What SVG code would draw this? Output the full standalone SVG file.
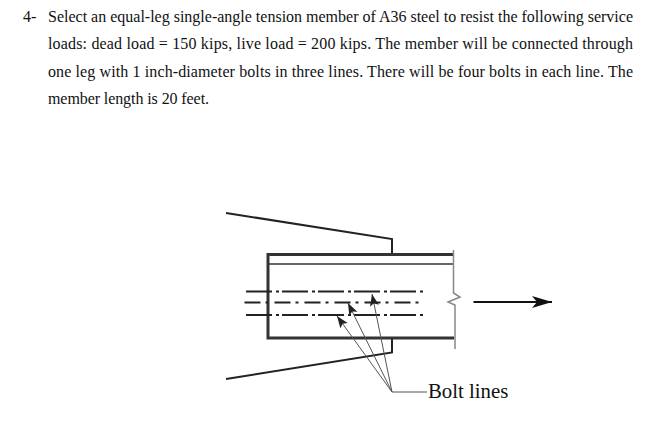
<svg xmlns="http://www.w3.org/2000/svg" width="662" height="441" viewBox="0 0 662 441">
<style>
.t{font-family:"Liberation Serif","Times New Roman",serif;font-size:16px;fill:#111}
.l{font-family:"Liberation Serif","Times New Roman",serif;font-size:20.800px;fill:#111}
.k{fill:none;stroke:#222;stroke-width:2}
.h{fill:none;stroke:#333;stroke-width:3}
.d{fill:none;stroke:#222;stroke-width:1.800}
.a{fill:none;stroke:#555;stroke-width:1}
</style>
<defs>
<marker id="ah" markerUnits="userSpaceOnUse" markerWidth="13" markerHeight="10" refX="12" refY="4.500" orient="auto"><path d="M0 0L12 4.500L0 9L2.500 4.500Z" fill="#222"/></marker>
<marker id="big" markerUnits="userSpaceOnUse" markerWidth="22" markerHeight="14" refX="20" refY="6" orient="auto"><path d="M0 0L20 6L0 12L5 6Z" fill="#111"/></marker>
</defs>
<rect width="662" height="441" fill="#fff"/>
<g id="question">
<text class="t" x="23" y="21.500">4-</text>
<text class="t" x="48" y="21.500" textLength="585" lengthAdjust="spacing">Select an equal-leg single-angle tension member of A36 steel to resist the following service</text>
<text class="t" x="48" y="49.300" textLength="585" lengthAdjust="spacing">loads: dead load = 150 kips, live load = 200 kips. The member will be connected through</text>
<text class="t" x="48" y="77" textLength="585" lengthAdjust="spacing">one leg with 1 inch-diameter bolts in three lines. There will be four bolts in each line. The</text>
<text class="t" x="48" y="104.300" textLength="161" lengthAdjust="spacing">member length is 20 feet.</text>
</g>
<g id="gusset-plate">
<path class="k" d="M226 213L392 239V254"/>
<path class="k" d="M226 379L392 352.500V338"/>
</g>
<g id="angle-member">
<path class="h" d="M454 254.500H268V338H454"/>
<path d="M268 264H454" fill="none" stroke="#333" stroke-width="1.500"/>
<path d="M453.500 250V293L460 297L448 302L455 305V349" fill="none" stroke="#888" stroke-width="1.500"/>
</g>
<g id="bolt-lines">
<path class="d" stroke-dasharray="26 4 3 3" d="M246 291.500H424"/>
<path class="d" stroke-dasharray="16 5 3 6" d="M244.500 302.500H420"/>
<path class="d" stroke-dasharray="26 4 3 3" d="M246 315H424"/>
</g>
<g id="connectors">
<path class="a" d="M392 392L337 316" marker-end="url(#ah)"/>
<path class="a" d="M392 392L348 303" marker-end="url(#ah)"/>
<path class="a" d="M392 392L372 294" marker-end="url(#ah)"/>
<path class="a" d="M392 392H427"/>
<path d="M473.500 302H552" fill="none" stroke="#111" stroke-width="2" marker-end="url(#big)"/>
</g>
<g id="label"><text class="l" x="428" y="398">Bolt lines</text></g>
</svg>
